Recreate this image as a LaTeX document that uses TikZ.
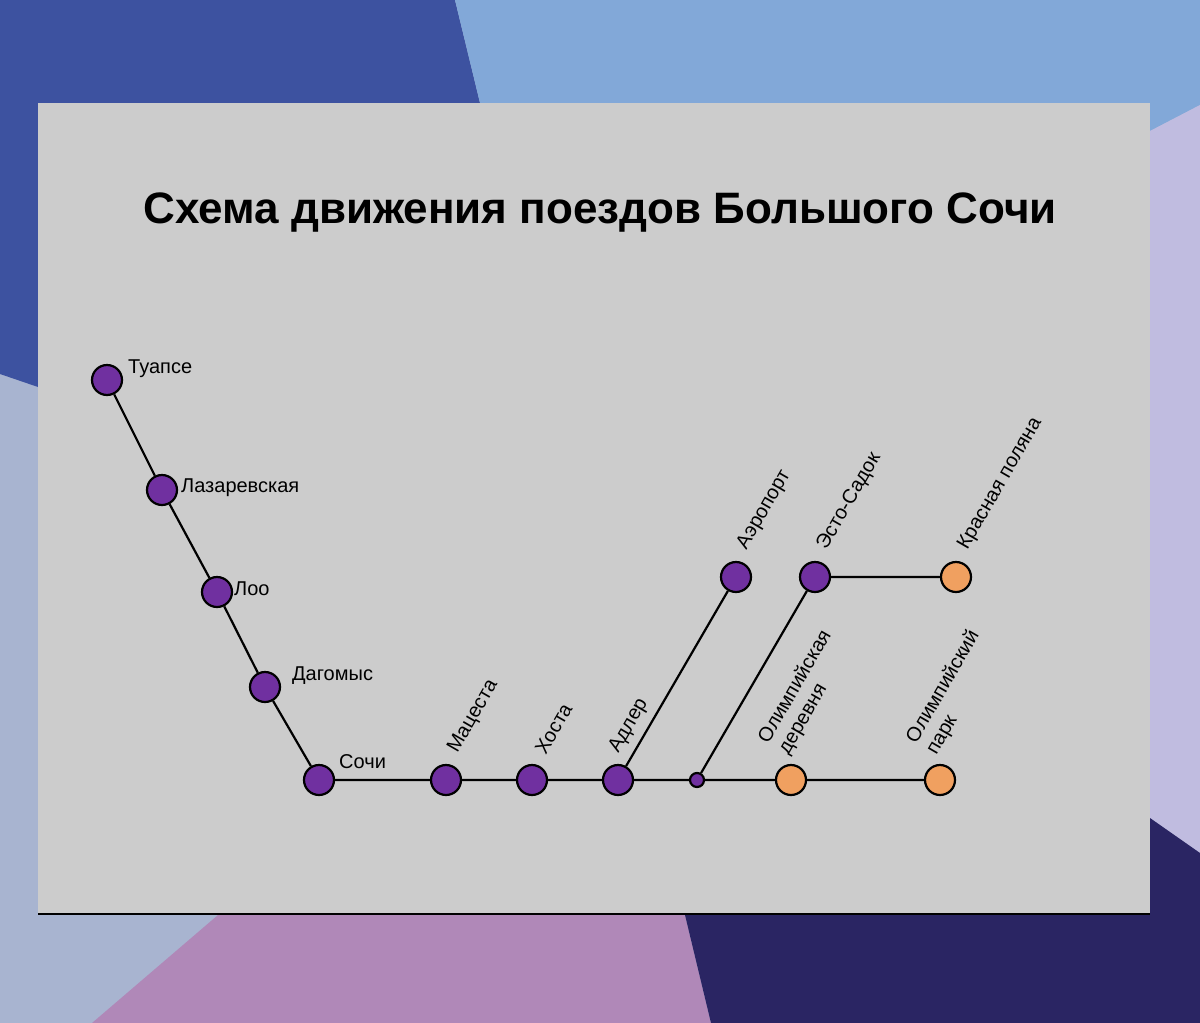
\documentclass[tikz,border=0pt]{standalone}
\usepackage{fontspec}
\setmainfont{Liberation Sans}
\begin{document}
\begin{tikzpicture}[x=1pt,y=-1pt,
  st/.style={circle,draw=black,line width=2.2pt,minimum size=30pt,inner sep=0pt,fill=stp},
  og/.style={st,fill=sto},
  lab/.style={font=\fontsize{20}{22}\selectfont,anchor=west,inner sep=0pt},
  rlab/.style={font=\fontsize{20}{23}\selectfont,anchor=south west,rotate=60,inner sep=0pt,align=left},
  ln/.style={line width=2.2pt}]
\definecolor{stp}{HTML}{7030A0}\definecolor{sto}{HTML}{F0A060}
\definecolor{c1}{HTML}{3D52A0}\definecolor{c2}{HTML}{82A8D8}\definecolor{c3}{HTML}{C0BCE0}
\definecolor{c4}{HTML}{2A2563}\definecolor{c5}{HTML}{B088B8}\definecolor{c6}{HTML}{A8B4D0}
\definecolor{pan}{HTML}{CCCCCC}
\useasboundingbox (0,0) rectangle (1200,1023);
\fill[c6] (0,0) rectangle (1200,1023);
\fill[c1] (0,0) -- (455,0) -- (505,206) -- (38,387) -- (0,374) -- cycle;
\fill[c2] (455,0) -- (1200,0) -- (1200,105) -- (1150,131) -- (505,206) -- cycle;
\fill[c3] (1150,131) -- (1200,105) -- (1200,853) -- (1150,818) -- cycle;
\fill[c5] (218,915) -- (685,915) -- (711,1023) -- (92,1023) -- cycle;
\fill[c4] (685,915) -- (1150,818) -- (1200,853) -- (1200,1023) -- (711,1023) -- cycle;
\fill[black] (38,103) rectangle (1150,915);
\fill[pan] (38,103) rectangle (1150,913);
\node[font=\bfseries\fontsize{44}{48}\selectfont] (title) at (600,213) {Схема движения поездов Большого Сочи};
\node[st] (tu) at (107,380) {}; \node[st] (la) at (162,490) {};
\node[st] (lo) at (217,592) {}; \node[st] (da) at (265,687) {};
\node[st] (so) at (319,780) {}; \node[st] (ma) at (446,780) {};
\node[st] (ho) at (532,780) {}; \node[st] (ad) at (618,780) {};
\node[circle,draw=black,line width=2.2pt,minimum size=14pt,inner sep=0pt,fill=stp] (j) at (697,780) {};
\node[og] (od) at (791,780) {}; \node[og] (op) at (940,780) {};
\node[st] (ae) at (736,577) {}; \node[st] (es) at (815,577) {};
\node[og] (kp) at (956,577) {};
\draw[ln] (tu)--(la)--(lo)--(da)--(so)--(ma)--(ho)--(ad)--(j)--(od)--(op);
\draw[ln] (ad)--(ae); \draw[ln] (j)--(es)--(kp);
\node[lab] (ltu) at (128,369) {Туапсе};
\node[lab] (lla) at (181,488) {Лазаревская};
\node[lab] (llo) at (234,589) {Лоо};
\node[lab] (lda) at (292,676) {Дагомыс};
\node[lab] (lso) at (339,762) {Сочи};
\node[rlab] (lma) at (461,756) {Мацеста};
\node[rlab] (lho) at (546,756) {Хоста};
\node[rlab] (lad) at (622,756) {Адлер};
\node[rlab] (lae) at (750,553) {Аэропорт};
\node[rlab] (les) at (830,553) {Эсто-Садок};
\node[rlab] (lkp) at (971,553) {Красная поляна};
\node[rlab] (lod) at (792,758) {Олимпийская\\деревня};
\node[rlab] (lop) at (940,758) {Олимпийский\\парк};
\end{tikzpicture}
\end{document}
